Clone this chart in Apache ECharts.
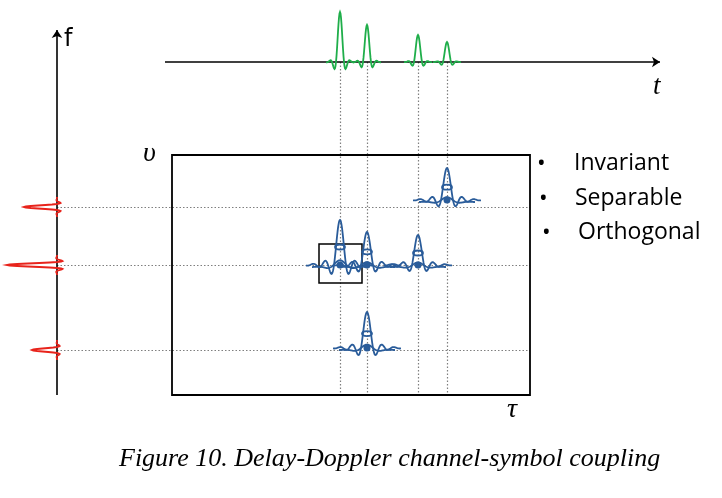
<!DOCTYPE html>
<html><head><meta charset="utf-8">
<script src="https://cdn.jsdelivr.net/npm/echarts@6/dist/echarts.min.js"></script>
<style>html,body{margin:0;background:#fff}#c{width:722px;height:498px}</style>
</head><body><div id="c"></div>
<script>
// pixel-space diagram: x = delay/time position, y = doppler/frequency position
var delayTaps = [340, 367, 418, 447];
var tPulseHeights = [50, 37, 27, 20];
var dopplerTaps = [207, 265, 350];
var fPulseLengths = [33, 50, 25];
var ddPulses = [[447, 200, 32], [340, 265, 45], [367, 265, 33], [418, 265, 30], [367, 348, 36]];
var bullets = ['Invariant', 'Separable', 'Orthogonal'];

var myChart = echarts.init(document.getElementById('c'));

function sinc(u) { return u === 0 ? 1 : Math.sin(Math.PI * u) / (Math.PI * u); }

// pulse glyph: damped sinc drawn around (cx, cy)
function pulsePts(api, cx, cy, h, w, span, dir, damp) {
	var pts = [];
	for (var i = -span; i <= span; i += 0.5) {
		var v = sinc(i / w) * h * Math.exp(-Math.pow(i / (span * damp), 2));
		var p = dir === 'left' ? api.coord([cx - v, cy + i]) : api.coord([cx + i, cy - v]);
		pts.push(p);
	}
	return pts;
}

var dotted = { color: '#000', width: 1.2, type: [1.5, 2] };
var lines = [];
dopplerTaps.forEach(function (y) { lines.push([[57, y], [530, y]]); });
delayTaps.forEach(function (x) { lines.push([[x, 62], [x, 395]]); });

var option = {
	animation: false,
	grid: { left: 0, right: 0, top: 0, bottom: 0 },
	xAxis: { type: 'value', min: 0, max: 722, show: false },
	yAxis: { type: 'value', min: 0, max: 498, inverse: true, show: false },
	series: [
		{
			type: 'lines', coordinateSystem: 'cartesian2d', silent: true,
			data: lines.map(function (c) { return { coords: c }; }),
			lineStyle: dotted
		},
		{
			type: 'lines', coordinateSystem: 'cartesian2d', silent: true,
			symbol: ['none', 'arrow'], symbolSize: 8,
			data: [{ coords: [[57, 395], [57, 30]] }, { coords: [[165, 62], [660, 62]] }],
			lineStyle: { color: '#000', width: 1.6, opacity: 1 }
		},
		{
			type: 'custom', coordinateSystem: 'cartesian2d', silent: true,
			data: [0],
			renderItem: function (params, api) {
				var ch = [];
				var tl = api.coord([172, 155]), br = api.coord([530, 395]);
				ch.push({ type: 'rect', shape: { x: tl[0], y: tl[1], width: br[0] - tl[0], height: br[1] - tl[1] },
					style: { fill: 'none', stroke: '#000', lineWidth: 1.8 } });
				var a = api.coord([319, 244]), b = api.coord([362, 283]);
				ch.push({ type: 'rect', shape: { x: a[0], y: a[1], width: b[0] - a[0], height: b[1] - a[1] },
					style: { fill: 'none', stroke: '#000', lineWidth: 1.5 } });
				delayTaps.forEach(function (x, i) {
					ch.push({ type: 'polyline', shape: { points: pulsePts(api, x, 62, tPulseHeights[i], 4, 14, null, 0.6) },
						style: { fill: 'none', stroke: '#1fae4a', lineWidth: 1.8 } });
				});
				dopplerTaps.forEach(function (y, i) {
					ch.push({ type: 'polyline', shape: { points: pulsePts(api, 57, y, fPulseLengths[i], 3, 10, 'left', 0.5) },
						style: { fill: 'none', stroke: '#e8231b', lineWidth: 1.8 } });
				});
				ddPulses.forEach(function (d) {
					var st = { fill: 'none', stroke: '#2a5c9a', lineWidth: 1.8 };
					ch.push({ type: 'polyline', shape: { points: pulsePts(api, d[0], d[1], d[2], 6, 34, null, 0.8) }, style: st });
					ch.push({ type: 'polyline', shape: { points: pulsePts(api, d[0], d[1] + 2, d[2] * 0.15, 9, 28, null, 0.8) }, style: st });
					var e = api.coord([d[0], d[1] - d[2] * 0.4]);
					ch.push({ type: 'ellipse', shape: { cx: e[0], cy: e[1], rx: 5, ry: 2.5 }, style: st });
					var o = api.coord([d[0], d[1]]);
					ch.push({ type: 'circle', shape: { cx: o[0], cy: o[1], r: 3.5 }, style: { fill: '#2a5c9a' } });
				});
				return { type: 'group', children: ch };
			}
		}
	],
	graphic: [
		{ type: 'text', left: 64, top: 28, style: { text: 'f', font: '24px "DejaVu Sans"', fill: '#000' } },
		{ type: 'text', left: 653, top: 73, style: { text: 't', font: 'italic 27px "Liberation Serif"', fill: '#000' } },
		{ type: 'text', left: 143, top: 140, style: { text: 'υ', font: 'italic 28px "Liberation Serif"', fill: '#000' } },
		{ type: 'text', left: 507, top: 396, style: { text: 'τ', font: 'italic 28px "Liberation Serif"', fill: '#000' } },
		{ type: 'text', left: 537, top: 153, style: { text: '•', font: '23px "Open Sans"', fill: '#000' } },
		{ type: 'text', left: 574, top: 152, style: { text: bullets[0], font: '23px "Open Sans"', fill: '#000' } },
		{ type: 'text', left: 539, top: 188, style: { text: '•', font: '23px "Open Sans"', fill: '#000' } },
		{ type: 'text', left: 575, top: 187, style: { text: bullets[1], font: '23px "Open Sans"', fill: '#000' } },
		{ type: 'text', left: 542, top: 222, style: { text: '•', font: '23px "Open Sans"', fill: '#000' } },
		{ type: 'text', left: 578, top: 221, style: { text: bullets[2], font: '23px "Open Sans"', fill: '#000' } },
		{ type: 'text', left: 119, top: 446, style: { text: 'Figure 10. Delay-Doppler channel-symbol coupling', font: 'italic 26px "Liberation Serif"', fill: '#000' } }
	]
};
myChart.setOption(option);
</script></body></html>
